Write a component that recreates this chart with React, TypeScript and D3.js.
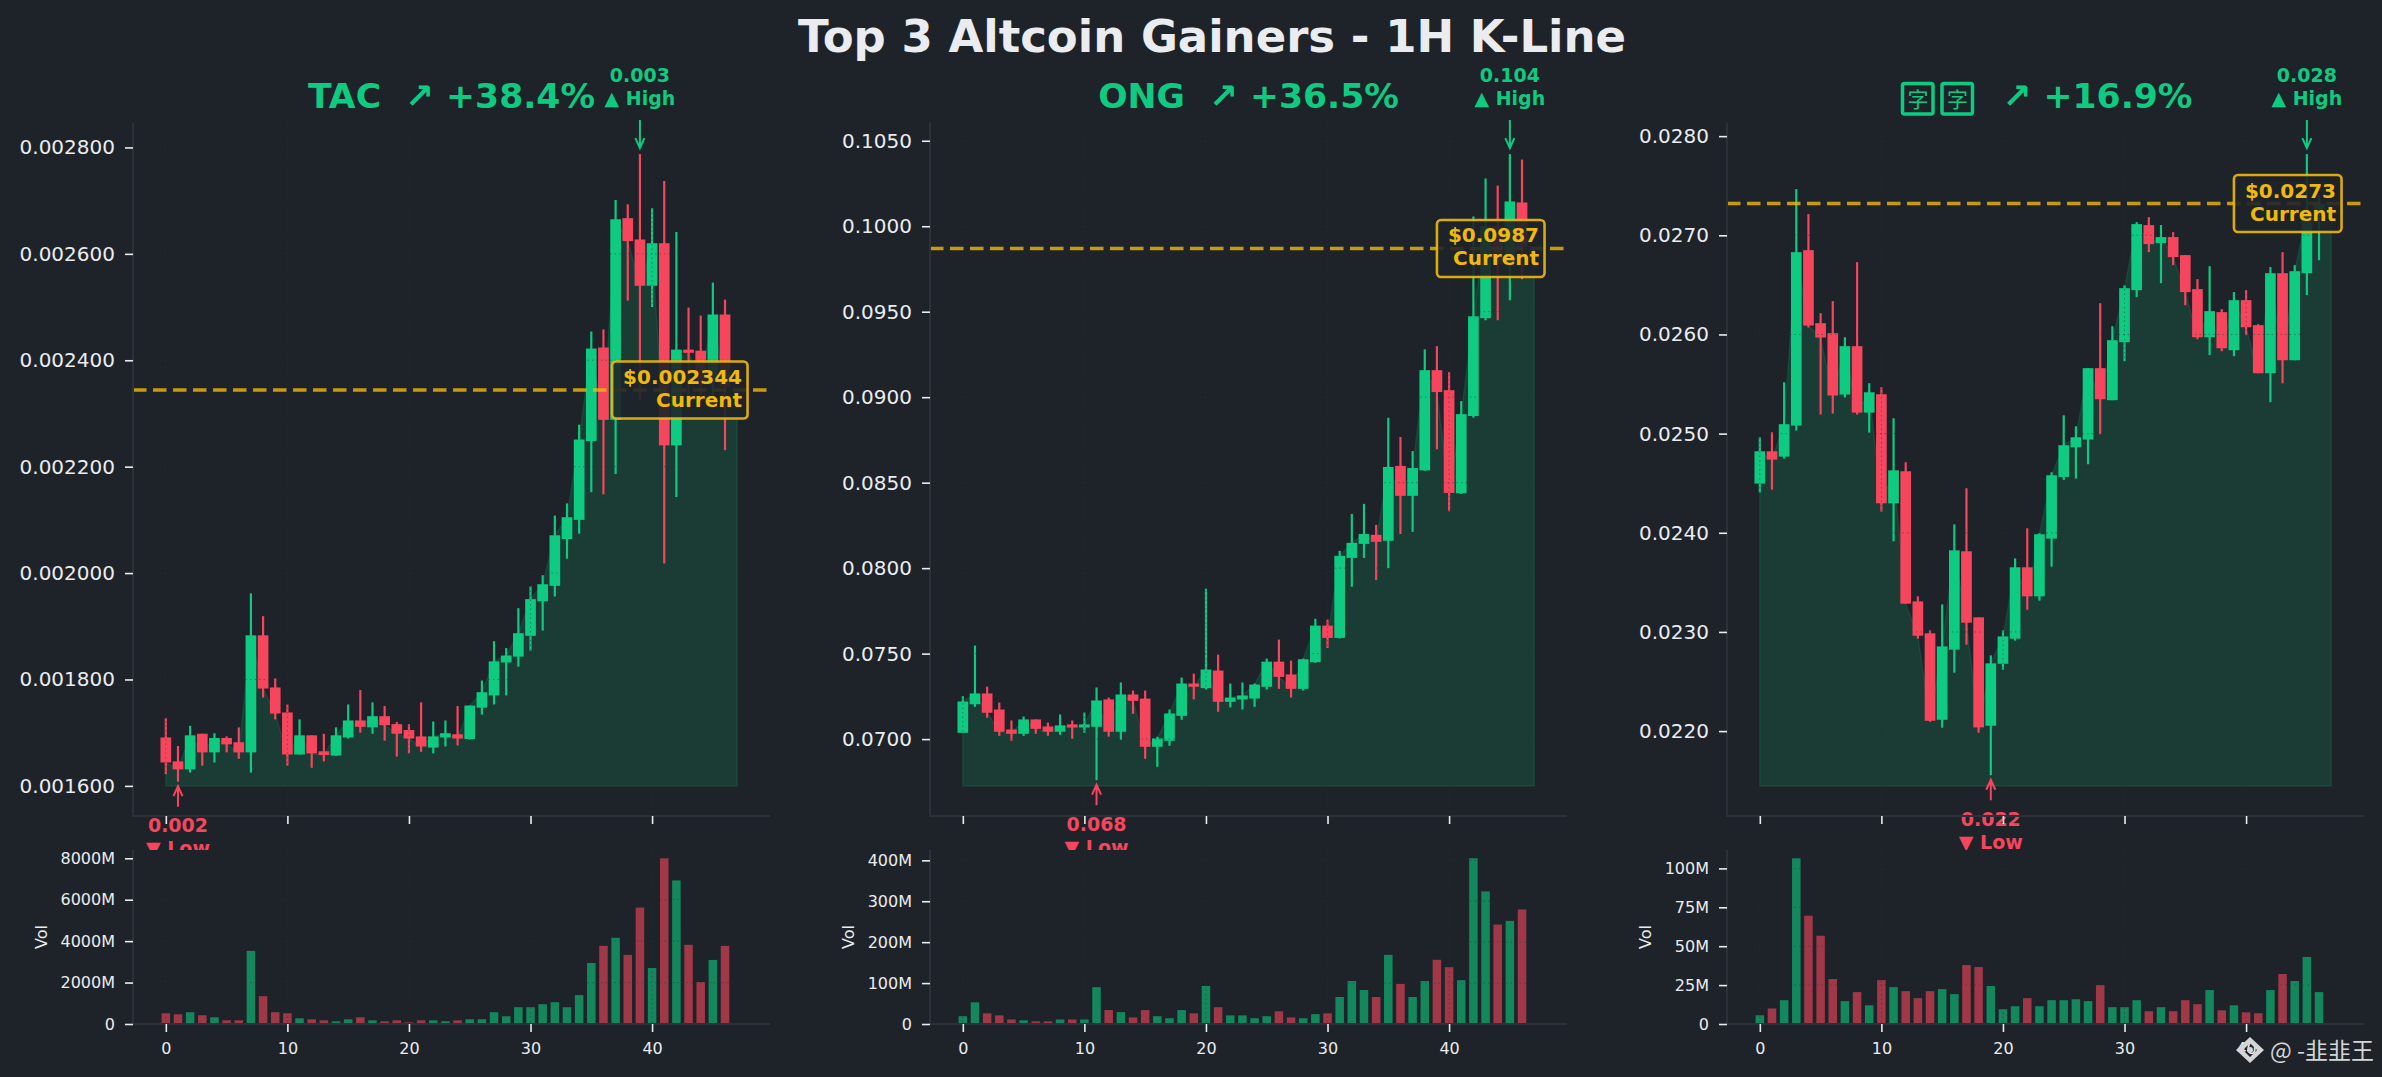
import React, { useRef, useEffect } from 'react';
import * as d3 from 'd3';

const WIDTH = 2382;
const HEIGHT = 1077;

const BG = '#1e2329';
const UP = '#0ecb81';
const DOWN = '#f6465d';
const GOLD = '#f0b90b';
const TEXT = '#eaecef';
const SPINE = '#2b3139';
const FONT = '"DejaVu Sans", "Noto Sans CJK SC", sans-serif';

const micro = (v: number) => v / 1e6;
const tenThousandth = (v: number) => v / 1e4;

// TAC
const tacOpen = [1691, 1646, 1631, 1698, 1663, 1690, 1682, 1663, 1883, 1785, 1738, 1659, 1695, 1665, 1657, 1691, 1723, 1710, 1731, 1716, 1705, 1693, 1672, 1691, 1697, 1688, 1747, 1770, 1832, 1843, 1882, 1947, 1976, 2064, 2100, 2248, 2424, 2288, 2667, 2627, 2540, 2620, 2240, 2420, 2418, 2360, 2486].map(micro);
const tacClose = [1644, 1631, 1695, 1663, 1690, 1678, 1663, 1883, 1783, 1736, 1659, 1695, 1661, 1658, 1695, 1723, 1711, 1731, 1714, 1698, 1689, 1674, 1693, 1699, 1689, 1751, 1776, 1834, 1845, 1887, 1951, 1979, 2071, 2105, 2251, 2422, 2288, 2665, 2624, 2540, 2620, 2240, 2420, 2414, 2360, 2486, 2350].map(micro);
const tacHigh = [1727, 1675, 1713, 1698, 1699, 1693, 1710, 1962, 1919, 1802, 1753, 1725, 1695, 1698, 1710, 1753, 1780, 1757, 1750, 1720, 1716, 1757, 1721, 1723, 1750, 1751, 1798, 1872, 1859, 1934, 1975, 1996, 2108, 2131, 2279, 2454, 2458, 2701, 2693, 2787.5, 2686, 2737, 2641, 2499, 2484, 2546, 2514].map(micro);
const tacLow = [1622, 1608, 1625, 1638, 1644, 1663, 1651, 1625, 1766, 1725, 1638, 1659, 1634, 1646, 1656, 1689, 1700, 1698, 1685, 1655, 1661, 1664, 1661, 1674, 1676, 1687, 1734, 1753, 1770, 1824, 1854, 1892, 1956, 2027, 2074, 2152, 2148, 2186, 2512, 2325, 2500, 2018, 2143, 2325, 2325, 2330, 2231].map(micro);
const tacVol = [518, 470, 567, 421, 324, 178, 178, 3530, 1344, 567, 518, 275, 227, 178, 130, 227, 324, 178, 130, 178, 81, 178, 178, 130, 178, 227, 227, 567, 372, 810, 810, 955, 1053, 810, 1393, 2947, 3773, 4162, 3336, 5620, 2704, 8000, 6931, 3822, 2024, 3093, 3773];
const tacTicks = [0.0016, 0.0018, 0.002, 0.0022, 0.0024, 0.0026, 0.0028];
const tacVolTicks = [0, 2000, 4000, 6000, 8000];

// ONG
const ongOpen = [703.7, 720.4, 726.7, 717.3, 705.6, 703.1, 711.5, 707.4, 704.3, 708.6, 706.8, 707.2, 723.2, 704.3, 726.1, 723.7, 695.5, 699, 713.6, 732.5, 729.8, 740.1, 721.8, 723.2, 723.7, 730.6, 745.3, 737.8, 729.4, 745, 766.4, 759.2, 806, 814.2, 819.5, 816, 859.8, 842.3, 857.2, 915.8, 904.1, 843.8, 889, 946.2, 1000, 978, 1013.9].map(tenThousandth);
const ongClose = [722, 726.7, 715.4, 704.3, 703.1, 711.5, 706, 704.3, 708, 706.8, 708.6, 722.6, 704.3, 726.1, 722.4, 695.5, 700.4, 715, 732.5, 730.6, 740.7, 721.8, 724.3, 725.5, 731.9, 745.3, 736.4, 729.4, 746.7, 766.4, 759.2, 807.2, 814.8, 820, 815.4, 859.2, 842.3, 858.6, 915.8, 903, 844, 890.1, 947.3, 1000, 978, 1014.5, 988].map(tenThousandth);
const ongHigh = [725.1, 754.7, 730.7, 721.4, 710.9, 713.2, 711.5, 709.7, 714.4, 710.9, 715.6, 730.2, 724.3, 733.1, 728.4, 728.4, 701.4, 717.3, 736, 738.3, 788, 749.4, 732.5, 733.1, 732.5, 747.1, 758.2, 745.9, 747.1, 770.4, 769.9, 810.1, 831.7, 837.6, 825.3, 888, 876.7, 868.5, 928, 929.8, 914.6, 897.7, 1005.7, 1027.9, 1023.8, 1042.2, 1039].map(tenThousandth);
const ongLow = [703.7, 718.9, 712.5, 701.9, 699, 701.9, 703.1, 701.9, 702.5, 700.2, 703.7, 676, 701.4, 699.6, 714.8, 688.5, 683.8, 696.1, 711.3, 723.2, 729, 716, 718.5, 717.3, 718.9, 729, 729.4, 724.3, 728.4, 744.6, 753.3, 758.8, 789.1, 806, 793, 800, 820, 821.2, 856.9, 869.5, 833.3, 843.4, 888, 945, 945, 956.7, 969].map(tenThousandth);
const ongVol = [19, 53, 26, 21, 11, 9, 6.5, 6.5, 11, 11, 11, 90, 34, 29, 16, 34, 19, 14, 34, 26, 93, 41, 21, 21, 14, 19, 31, 16, 14, 24, 26, 66, 105, 83, 66, 169, 98, 66, 105, 157, 139, 107, 405, 324, 243, 252, 280];
const ongTicks = [0.07, 0.075, 0.08, 0.085, 0.09, 0.095, 0.1, 0.105];
const ongVolTicks = [0, 100, 200, 300, 400];

// third coin, its name came out as two missing-glyph boxes in the picture
const cjkOpen = [24496, 24822, 24768, 25081, 26850, 26114, 26013, 25394, 25882, 25212, 25397, 24297, 24620, 23308, 22986, 22114, 22821, 23813, 23147, 22054, 22679, 22932, 23652, 23359, 23941, 24563, 24862, 24940, 25660, 25337, 25922, 26447, 27103, 26921, 26982, 26800, 26457, 25972, 26225, 25841, 26346, 26094, 25609, 26618, 25740, 26618, 27222].map(micro);
const cjkClose = [24822, 24738, 25095, 26830, 26090, 25969, 25384, 25882, 25212, 25417, 24297, 24630, 23285, 22962, 22104, 22854, 23823, 23093, 22037, 22683, 22955, 23652, 23359, 23985, 24580, 24883, 24963, 25660, 25347, 25942, 26467, 27113, 26911, 26982, 26780, 26427, 25972, 26235, 25861, 26346, 26073, 25609, 26618, 25740, 26638, 27222, 27310].map(micro);
const cjkHigh = [24963, 25014, 25518, 27466, 27214, 26215, 26336, 25972, 26729, 25508, 25468, 25155, 24711, 23359, 23016, 23278, 24085, 24449, 23147, 22764, 23016, 23742, 24045, 23995, 24610, 25185, 25074, 25660, 26315, 26083, 26497, 27133, 27183, 27103, 27032, 26800, 26558, 26689, 26255, 26427, 26447, 26104, 26679, 26830, 26699, 27819, 27400].map(micro);
const cjkLow = [24405, 24435, 24748, 25031, 26070, 25192, 25202, 25364, 25192, 25010, 24213, 23914, 23285, 22932, 22094, 22034, 22589, 22871, 21983, 21555, 22619, 22912, 23224, 23315, 23658, 24533, 24546, 24691, 24994, 25337, 25730, 26376, 26830, 26517, 26699, 26295, 25952, 25791, 25831, 25781, 25993, 25609, 25317, 25508, 25740, 26396, 26749].map(micro);
const cjkVol = [5.6, 10, 15.3, 106.5, 69.6, 56.7, 28.9, 14.7, 20.5, 12, 28.2, 23.7, 21.1, 16.6, 21.1, 22.4, 19.2, 37.9, 36.6, 24.4, 9.5, 11.4, 16.6, 11.4, 15.3, 15.3, 15.9, 14.7, 25, 10.8, 10.8, 15.3, 8.2, 10.8, 8.2, 15.3, 12.7, 21.8, 8.8, 12, 7.5, 6.9, 21.8, 32.1, 27.6, 43.1, 20.5];
const cjkTicks = [0.022, 0.023, 0.024, 0.025, 0.026, 0.027, 0.028];
const cjkVolTicks = [0, 25, 50, 75, 100];

const xTicks = [0, 10, 20, 30, 40];

const coins = [
  { name: 'TAC', change: '+38.4%', current: 0.002344, digits: 6, open: tacOpen, close: tacClose, high: tacHigh, low: tacLow, vol: tacVol, ticks: tacTicks, volTicks: tacVolTicks, left: 133, right: 770 },
  { name: 'ONG', change: '+36.5%', current: 0.0987, digits: 4, open: ongOpen, close: ongClose, high: ongHigh, low: ongLow, vol: ongVol, ticks: ongTicks, volTicks: ongVolTicks, left: 930, right: 1567 },
  { name: '字字', change: '+16.9%', current: 0.02732, digits: 4, open: cjkOpen, close: cjkClose, high: cjkHigh, low: cjkLow, vol: cjkVol, ticks: cjkTicks, volTicks: cjkVolTicks, left: 1727, right: 2364 },
];

const PRICE_TOP = 122.5;
const PRICE_BOTTOM = 817.5;
const PRICE_SPINE = 816;
const VOL_TOP = 850;
const VOL_BOTTOM = 1024;

const App: React.FC = () => {
  const svgRef = useRef<SVGSVGElement>(null);

  useEffect(() => {
    if (!svgRef.current) return;
    const svg = d3.select(svgRef.current);
    svg.selectAll('*').remove();

    svg.append('rect').attr('width', WIDTH).attr('height', HEIGHT).attr('fill', BG);

    svg.append('text')
      .attr('x', 1212)
      .attr('y', 52)
      .attr('text-anchor', 'middle')
      .attr('font-size', 45)
      .attr('font-weight', 'bold')
      .attr('fill', TEXT)
      .text('Top 3 Altcoin Gainers - 1H K-Line');

    coins.forEach(coin => drawCoin(svg, coin));

    // watermark
    const mark = svg.append('g').attr('fill', '#d4d5d7');
    const cx = 2250;
    const cy = 1050;
    mark.append('path')
      .attr('d', `M${cx},${cy - 13}L${cx + 14},${cy}L${cx},${cy + 13}L${cx - 14},${cy}Z M${cx},${cy - 7}L${cx - 7},${cy}L${cx},${cy + 7}L${cx + 7},${cy}Z`)
      .attr('fill-rule', 'evenodd');
    mark.append('circle').attr('cx', cx).attr('cy', cy).attr('r', 3);
    mark.append('text')
      .attr('x', 2270)
      .attr('y', 1059)
      .attr('font-size', 23)
      .attr('font-family', '"Noto Sans CJK SC", sans-serif')
      .text('@ -韭韭王');
  }, []);

  return (
    <svg
      ref={svgRef}
      width={WIDTH}
      height={HEIGHT}
      style={{ position: 'absolute', left: 0, top: 0, display: 'block', fontFamily: FONT }}
    />
  );
};

function styleAxis(g: any, fontSize: number) {
  g.select('.domain').remove();
  g.selectAll('.tick line').attr('stroke', TEXT).attr('stroke-width', 1.6);
  g.selectAll('.tick text').attr('fill', TEXT).attr('font-size', fontSize).attr('font-family', FONT);
}

function drawGrid(g: any, x: any, y: any, xs: number[], ys: number[], left: number, right: number, top: number, bottom: number) {
  const grid = g.append('g')
    .attr('stroke', SPINE)
    .attr('stroke-opacity', 0.45)
    .attr('stroke-dasharray', '1.5,3');
  grid.selectAll('.gx').data(xs).join('line')
    .attr('x1', (d: number) => x(d)).attr('x2', (d: number) => x(d))
    .attr('y1', top).attr('y2', bottom);
  grid.selectAll('.gy').data(ys).join('line')
    .attr('x1', left).attr('x2', right)
    .attr('y1', (d: number) => y(d)).attr('y2', (d: number) => y(d));
}

function drawSpines(g: any, left: number, right: number, top: number, bottom: number) {
  g.append('path')
    .attr('d', `M${left},${top}V${bottom}H${right}`)
    .attr('fill', 'none')
    .attr('stroke', SPINE)
    .attr('stroke-width', 2);
}

function drawCoin(svg: any, coin: typeof coins[number]) {
  const { left, right, open, close, high, low, vol } = coin;
  const g = svg.append('g');
  const indices = d3.range(open.length);

  const x = d3.scaleLinear().domain([-2.7, 49.7]).range([left, right]);

  const minLow = d3.min(low) as number;
  const maxHigh = d3.max(high) as number;
  const base = minLow * 0.995;
  const pad = (maxHigh - base) * 0.05;
  const y = d3.scaleLinear().domain([base - pad, maxHigh + pad]).range([PRICE_BOTTOM, PRICE_TOP]);

  const center = (left + right) / 2;
  const isUp = (i: number) => close[i] >= open[i];

  // subtitle
  const subtitle = g.append('text')
    .attr('y', 107.5)
    .attr('font-size', 34.6)
    .attr('font-weight', 'bold')
    .attr('fill', UP)
    .style('white-space', 'pre');
  if (coin.name === '字字') {
    subtitle.attr('x', center + 147).attr('text-anchor', 'end').text(`↗ ${coin.change}`);
    [center - 143, center - 103.5].forEach(fx => {
      g.append('rect')
        .attr('x', fx).attr('y', 83.5)
        .attr('width', 30.5).attr('height', 30.5)
        .attr('rx', 2)
        .attr('fill', 'none')
        .attr('stroke', UP)
        .attr('stroke-width', 3.5);
    });
    g.append('text')
      .attr('x', center - 143 + 5)
      .attr('y', 107)
      .attr('font-size', 21)
      .attr('font-family', '"Noto Sans CJK SC", sans-serif')
      .attr('letter-spacing', 18.5)
      .attr('fill', UP)
      .text(coin.name);
  } else {
    subtitle.attr('x', center).attr('text-anchor', 'middle').text(`${coin.name}  ↗ ${coin.change}`);
  }

  // area under closes, the last point is the current price
  const closeLine = [...close, coin.current];
  const area = d3.area<number>()
    .x((_, i) => x(i))
    .y0(y(base))
    .y1(d => y(d));
  g.append('path')
    .attr('d', area(closeLine))
    .attr('fill', UP)
    .attr('fill-opacity', 0.15)
    .attr('stroke', UP)
    .attr('stroke-opacity', 0.15)
    .attr('stroke-width', 1.5);

  // candles
  g.selectAll('.wick').data(indices).join('line')
    .attr('x1', (i: number) => x(i)).attr('x2', (i: number) => x(i))
    .attr('y1', (i: number) => y(high[i])).attr('y2', (i: number) => y(low[i]))
    .attr('stroke', (i: number) => (isUp(i) ? UP : DOWN))
    .attr('stroke-width', 2.2);
  g.selectAll('.body').data(indices).join('rect')
    .attr('x', (i: number) => x(i - 0.44))
    .attr('width', x(0.44) - x(-0.44))
    .attr('y', (i: number) => y(Math.max(open[i], close[i])))
    .attr('height', (i: number) => Math.max(1, Math.abs(y(open[i]) - y(close[i]))))
    .attr('fill', (i: number) => (isUp(i) ? UP : DOWN));

  drawGrid(g, x, y, xTicks, coin.ticks, left, right, PRICE_TOP, PRICE_SPINE);

  // current price line
  g.append('line')
    .attr('x1', left).attr('x2', right)
    .attr('y1', y(coin.current)).attr('y2', y(coin.current))
    .attr('stroke', GOLD)
    .attr('stroke-opacity', 0.8)
    .attr('stroke-width', 3.6)
    .attr('stroke-dasharray', '13.5,6.5');

  // high marker
  const highIdx = d3.maxIndex(high);
  const hx = x(highIdx);
  const hy = y(high[highIdx]);
  g.append('path')
    .attr('d', `M${hx},${hy - 34}V${hy - 6}M${hx - 4.5},${hy - 16}L${hx},${hy - 6}L${hx + 4.5},${hy - 16}`)
    .attr('fill', 'none')
    .attr('stroke', UP)
    .attr('stroke-width', 2);
  const highText = g.append('text')
    .attr('text-anchor', 'middle')
    .attr('font-size', 19)
    .attr('font-weight', 'bold')
    .attr('fill', UP);
  highText.append('tspan').attr('x', hx).attr('y', hy - 72.5).text(high[highIdx].toFixed(3));
  highText.append('tspan').attr('x', hx).attr('y', hy - 49).text('▲ High');

  // low marker
  const lowIdx = d3.minIndex(low);
  const lx = x(lowIdx);
  const ly = y(low[lowIdx]);
  g.append('path')
    .attr('d', `M${lx},${ly + 25}V${ly + 4.5}M${lx - 4.5},${ly + 14.5}L${lx},${ly + 4.5}L${lx + 4.5},${ly + 14.5}`)
    .attr('fill', 'none')
    .attr('stroke', DOWN)
    .attr('stroke-width', 2);
  const lowText = g.append('text')
    .attr('text-anchor', 'middle')
    .attr('font-size', 19)
    .attr('font-weight', 'bold')
    .attr('fill', DOWN);
  lowText.append('tspan').attr('x', lx).attr('y', ly + 50.5).text(low[lowIdx].toFixed(3));
  lowText.append('tspan').attr('x', lx).attr('y', ly + 73.5).text('▼ Low');

  // current price box
  const boxRight = x(47.4) + 5.5;
  const boxY = y(coin.current);
  const box = g.append('rect');
  const boxText = g.append('text')
    .attr('text-anchor', 'end')
    .attr('font-size', 20)
    .attr('font-weight', 'bold')
    .attr('fill', GOLD);
  const priceLine = boxText.append('tspan')
    .attr('x', x(47.4)).attr('y', boxY - 6)
    .text(`$${coin.current.toFixed(coin.digits)}`);
  boxText.append('tspan').attr('x', x(47.4)).attr('y', boxY + 17).text('Current');
  const boxWidth = (priceLine.node() as SVGTextContentElement).getComputedTextLength() + 16.5;
  box.attr('x', boxRight - boxWidth)
    .attr('y', boxY - 28.5)
    .attr('width', boxWidth)
    .attr('height', 57)
    .attr('rx', 4)
    .attr('fill', BG)
    .attr('fill-opacity', 0.9)
    .attr('stroke', GOLD)
    .attr('stroke-opacity', 0.9)
    .attr('stroke-width', 2.6);

  // price axes
  drawSpines(g, left, right, PRICE_TOP, PRICE_SPINE);
  g.append('g')
    .attr('transform', `translate(${left},0)`)
    .call(d3.axisLeft(y).tickValues(coin.ticks).tickSize(8).tickPadding(10).tickFormat(d => (d as number).toFixed(coin.digits)))
    .call((a: any) => styleAxis(a, 20));
  g.append('g')
    .attr('transform', `translate(0,${PRICE_SPINE})`)
    .call(d3.axisBottom(x).tickValues(xTicks).tickSize(8).tickFormat(() => ''))
    .call((a: any) => styleAxis(a, 16));

  // volume panel sits on top and cuts the low label
  const vg = svg.append('g');
  vg.append('rect')
    .attr('x', left).attr('y', VOL_TOP)
    .attr('width', right - left).attr('height', VOL_BOTTOM - VOL_TOP)
    .attr('fill', BG);
  const volMax = d3.max(vol) as number;
  const yVol = d3.scaleLinear().domain([0, volMax * 1.05]).range([VOL_BOTTOM, VOL_TOP]);
  vg.selectAll('.bar').data(indices).join('rect')
    .attr('x', (i: number) => x(i - 0.35))
    .attr('width', x(0.35) - x(-0.35))
    .attr('y', (i: number) => yVol(vol[i]))
    .attr('height', (i: number) => VOL_BOTTOM - yVol(vol[i]))
    .attr('fill', (i: number) => (isUp(i) ? UP : DOWN))
    .attr('fill-opacity', 0.6);
  drawGrid(vg, x, yVol, xTicks, coin.volTicks, left, right, VOL_TOP, VOL_BOTTOM);
  drawSpines(vg, left, right, VOL_TOP, VOL_BOTTOM);
  const volAxis = vg.append('g')
    .attr('transform', `translate(${left},0)`)
    .call(d3.axisLeft(yVol).tickValues(coin.volTicks).tickSize(8).tickPadding(10).tickFormat(d => (d === 0 ? '0' : `${d}M`)))
    .call((a: any) => styleAxis(a, 16));
  vg.append('g')
    .attr('transform', `translate(0,${VOL_BOTTOM})`)
    .call(d3.axisBottom(x).tickValues(xTicks).tickSize(8).tickPadding(11).tickFormat(d => `${d}`))
    .call((a: any) => styleAxis(a, 16));
  // the Vol label keeps its distance to the widest tick label
  const labelX = left + (volAxis.node() as SVGGElement).getBBox().x - 13.5;
  vg.append('text')
    .attr('transform', `translate(${labelX},937) rotate(-90)`)
    .attr('text-anchor', 'middle')
    .attr('font-size', 16)
    .attr('fill', TEXT)
    .text('Vol');
}

export default App;
